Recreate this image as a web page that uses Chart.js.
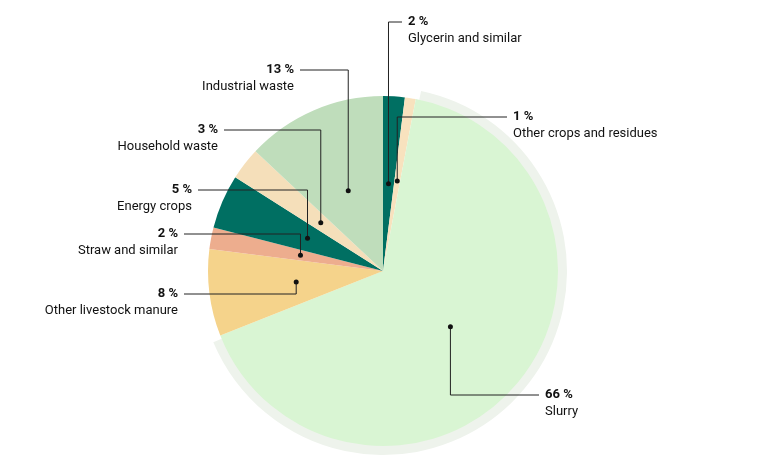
<!DOCTYPE html>
<html>
<head>
<meta charset="utf-8">
<script src="https://cdn.jsdelivr.net/npm/chart.js@4"></script>
<style>
  body { margin: 0; background: #fff; }
  #wrap { width: 768px; height: 462px; position: relative; }
</style>
</head>
<body>
<div id="wrap"><canvas id="miGrafica"></canvas></div>
<script>
const categorias = ["Glycerin and similar", "Other crops and residues", "Slurry", "Other livestock manure",
    "Straw and similar", "Energy crops", "Household waste", "Industrial waste"];
const porcentajes = [2, 1, 66, 8, 2, 5, 3, 13];
const colores = ["#006F62", "#F8E2BE", "#D9F5D3", "#F5D38B", "#EDAD8E", "#006F62", "#F5DFBA", "#BFDDBB"];

// posicion de etiquetas: [x del texto, y de la linea horizontal, lado, fraccion de radio del punto]
const etiquetas = [
    [408, 22, "right", 0.5],
    [513, 117, "right", 0.52],
    [545, 395, "right", 0.5],
    [178, 294, "left", 0.5],
    [178, 234, "left", 0.48],
    [192, 190, "left", 0.47],
    [218, 130, "left", 0.45],
    [294, 70, "left", 0.5]
];

const halo = {
    id: "halo",
    beforeDatasetsDraw(chart) {
        const arc = chart.getDatasetMeta(0).data[2];
        const { x, y, startAngle, endAngle, outerRadius } = arc.getProps(["x", "y", "startAngle", "endAngle", "outerRadius"], true);
        const ctx = chart.ctx;
        ctx.save();
        ctx.fillStyle = "#EEF3EC";
        ctx.beginPath();
        ctx.moveTo(x, y);
        ctx.arc(x, y, outerRadius + 9, startAngle + 0.02, endAngle - 0.02);
        ctx.closePath();
        ctx.fill();
        ctx.restore();
    }
};

const lineas = {
    id: "lineas",
    afterDatasetsDraw(chart) {
        const ctx = chart.ctx;
        chart.getDatasetMeta(0).data.forEach((arc, i) => {
            const { x, y, startAngle, endAngle, outerRadius } = arc.getProps(["x", "y", "startAngle", "endAngle", "outerRadius"], true);
            const [tx, ty, lado, f] = etiquetas[i];
            const a = (startAngle + endAngle) / 2;
            const px = x + Math.cos(a) * outerRadius * f;
            const py = y + Math.sin(a) * outerRadius * f;
            ctx.save();
            ctx.strokeStyle = "#222";
            ctx.lineWidth = 1;
            ctx.beginPath();
            ctx.moveTo(px, py);
            ctx.lineTo(px, ty);
            ctx.lineTo(lado === "left" ? tx + 6 : tx - 6, ty);
            ctx.stroke();
            ctx.fillStyle = "#111";
            ctx.beginPath();
            ctx.arc(px, py, 2.5, 0, Math.PI * 2);
            ctx.fill();
            ctx.textAlign = lado === "left" ? "right" : "left";
            ctx.textBaseline = "middle";
            ctx.font = "bold 13px Roboto";
            ctx.fillText(porcentajes[i] + " %", tx, ty);
            ctx.font = "13px Roboto";
            ctx.fillText(categorias[i], tx, ty + 17);
            ctx.restore();
        });
    }
};

new Chart(document.getElementById("miGrafica"), {
    type: "pie",
    data: {
        labels: categorias,
        datasets: [{ data: porcentajes, backgroundColor: colores, borderWidth: 0 }]
    },
    options: {
        responsive: true,
        maintainAspectRatio: false,
        animation: false,
        layout: { padding: { left: 208, right: 210, top: 96, bottom: 16 } },
        plugins: { legend: { display: false }, tooltip: { enabled: false } }
    },
    plugins: [halo, lineas]
});
</script>
</body>
</html>
